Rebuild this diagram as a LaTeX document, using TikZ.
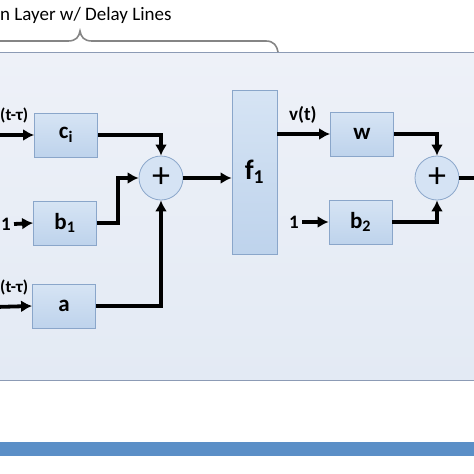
\documentclass[tikz,border=0pt]{standalone}
\usepackage{fontspec}
\setmainfont{Carlito}
\usepackage{xcolor}
\usetikzlibrary{arrows.meta}
\definecolor{paneltop}{HTML}{EEF1F8}
\definecolor{panelbot}{HTML}{E3EAF4}
\definecolor{panelline}{HTML}{8C9BB5}
\definecolor{blocktop}{HTML}{D6E4F4}
\definecolor{blockbot}{HTML}{BED3EC}
\definecolor{blockline}{HTML}{8AA6CA}
\definecolor{adderfill}{HTML}{D5E3F4}
\definecolor{barblue}{HTML}{5B8FC7}
\definecolor{bracegray}{HTML}{858585}

\begin{document}
\begin{tikzpicture}[x=1pt,y=-1pt,%
% common options for blocks:
block/.style = {draw=blockline, top color=blocktop, bottom color=blockbot, line width=0.8pt,
            align=center, minimum width=63pt, minimum height=44pt, inner sep=0,
            font=\fontsize{23}{23}\selectfont\bfseries},
% common options for the adders:
adder/.style = {circle, draw=blockline, fill=adderfill, line width=0.8pt,
            minimum size=44pt, inner sep=0, font=\fontsize{36}{36}\selectfont},
% common options for the wires:
wire/.style = {line width=3.8pt, -{Latex[length=11pt,width=12pt]}},
lbl/.style = {inner sep=0, font=\fontsize{19}{19}\selectfont\bfseries}]
\useasboundingbox (0,0) rectangle (474,474);
% panel and bar
\shade[top color=paneltop, bottom color=panelbot] (-5,52) rectangle (479,380);
\draw[panelline, line width=1pt] (-5,52) -- (479,52);
\draw[panelline, line width=1pt] (-5,380) -- (479,380);
\fill[barblue] (-5,442) rectangle (479,456);
% brace and title
\node[anchor=base west, inner sep=0, font=\fontsize{19}{19}\selectfont] (title) at (0,20) {n Layer w/ Delay Lines};
\draw[bracegray, line width=1.6pt] (-5,41) -- (68,41)
  .. controls (76,41) and (79,37) .. (80,31)
  .. controls (81,37) and (84,41) .. (92,41) -- (266,41)
  .. controls (274,41) and (277,46) .. (278,52);
% left column
\node[block] (C) at (66,135) {c\textsubscript{i}};
\node[block] (B1) at (65,223) {b\textsubscript{1}};
\node[block] (A) at (64,306) {a};
\node[adder] (S1) at (161,178) {+};
\node[block, minimum width=45pt, minimum height=164pt] (F) at (254.5,172)
  {\fontsize{28}{28}\selectfont f\textsubscript{1}};
% right column
\node[block] (W) at (362,134) {w};
\node[block] (B2) at (360.5,222) {b\textsubscript{2}};
\node[adder] (S2) at (437,178) {+};
% inputs
\coordinate (inC) at (-5,135);
\coordinate (inA) at (-5,307);
\coordinate (out) at (479,178);
\node[lbl, anchor=south west, font=\fontsize{17}{17}\selectfont\bfseries] (xC) at (0,123) {(t-τ)};
\node[lbl, anchor=south west, font=\fontsize{17}{17}\selectfont\bfseries] (xA) at (0,295) {(t-τ)};
\node[lbl, anchor=west] (one1) at (1,224) {1};
\node[lbl, anchor=south west] (vt) at (289,124) {v(t)};
\node[lbl, anchor=east] (one2) at (299,222) {1};
\draw[wire] (inC) -- (C.west);
\draw[wire] (one1.east) ++(3,0) -- (B1.west);
\draw[wire] (inA) -- (A.west);
\draw[wire] (C.east) -| (S1.north);
\draw[wire] (B1.east) -- ++(21,0) |- (S1.west);
\draw[wire] (A.east) -| (S1.south);
\draw[wire] (S1.east) -- (F.west |- S1.east);
\draw[wire] (F.east |- W.west) -- (W.west);
\draw[wire] (one2.east) ++(3,0) -- (B2.west);
\draw[wire] (W.east) -| (S2.north);
\draw[wire] (B2.east) -| (S2.south);
\draw[line width=3.8pt] (S2.east) -- (out);
\end{tikzpicture}
\end{document}
